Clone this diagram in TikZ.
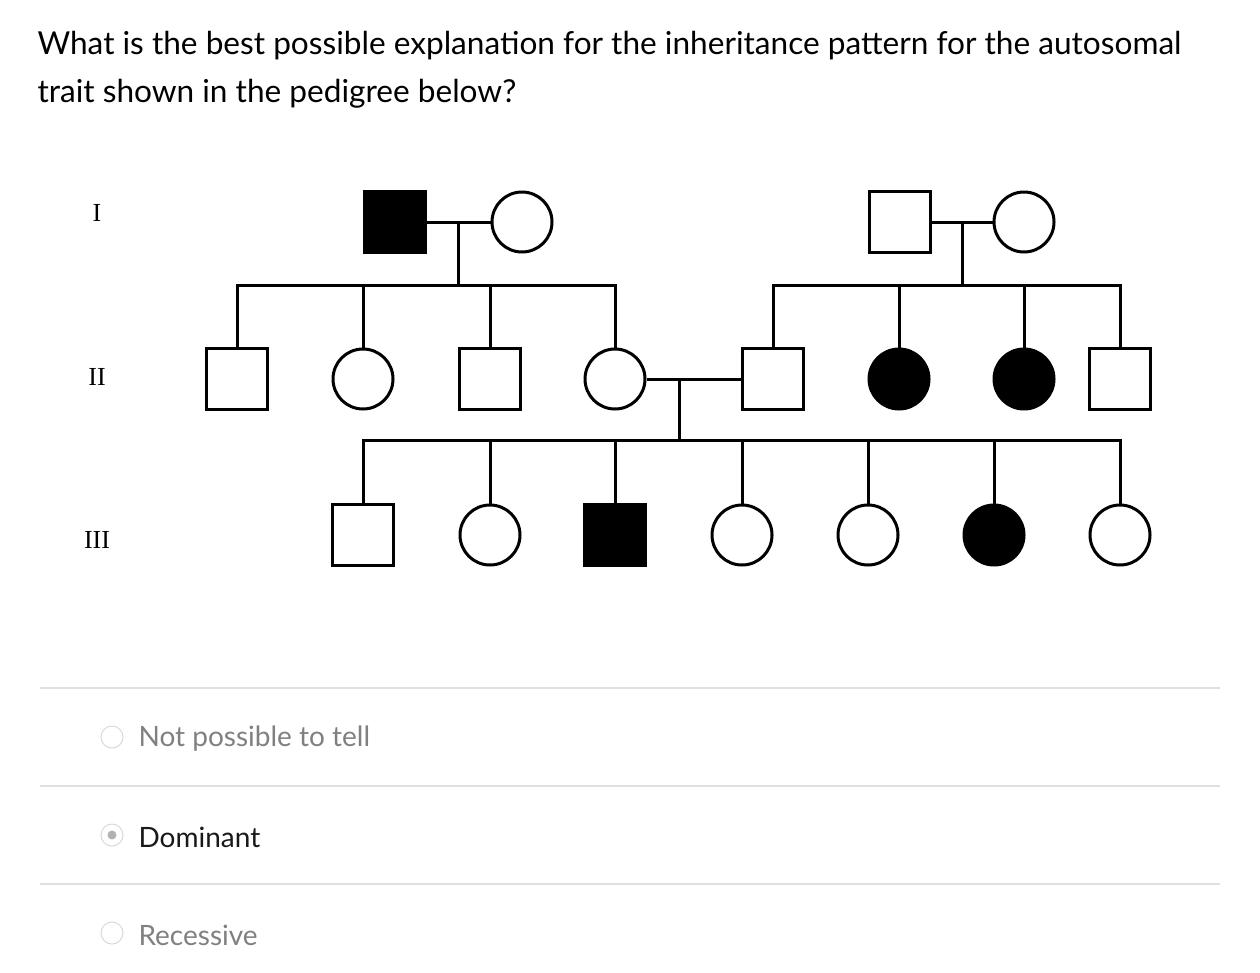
\documentclass[tikz,border=0pt]{standalone}
\usepackage{fontspec}
\setmainfont{Lato}
\newfontfamily\numfont{Liberation Serif}
\begin{document}
\begin{tikzpicture}[x=1pt,y=-1pt,
  sq/.style={draw,line width=3pt,minimum size=61pt,inner sep=0pt,rectangle},
  ci/.style={draw,line width=3pt,circle,minimum size=60pt,inner sep=0pt},
  af/.style={fill=black},
  ln/.style={line width=3pt},
  gen/.style={font=\numfont\fontsize{26}{30}\selectfont},
  sep/.style={draw=black!12,line width=1.5pt},
  radio/.style={draw=black!15,line width=1pt,circle,minimum size=22pt,inner sep=0pt},
  opt/.style={anchor=west,font=\fontsize{28}{32}\selectfont}]
\useasboundingbox (0,0) rectangle (1260,972);
\node[anchor=west,font=\fontsize{31.6}{48}\selectfont,align=left] (q) at (34,70) {What is the best possible explanation for the inheritance pattern for the autosomal\\trait shown in the pedigree below?};
\node[gen] (g1) at (97,213) {I};
\node[gen] (g2) at (97,377) {II};
\node[gen] (g3) at (97,540) {III};
% gen I
\node[sq,af] (a1) at (395,222) {};
\node[ci] (a2) at (522,222) {};
\node[sq] (b1) at (900,222) {};
\node[ci] (b2) at (1024,222) {};
\draw[ln] (a1) -- (a2); \draw[ln] (b1) -- (b2);
\coordinate (ma) at (458,222); \coordinate (mb) at (962,222);
\coordinate (sa) at (458,285); \coordinate (sb) at (962,285);
% gen II
\node[sq] (c1) at (237,379) {};
\node[ci] (c2) at (363,379) {};
\node[sq] (c3) at (490,379) {};
\node[ci] (c4) at (615,379) {};
\node[sq] (c5) at (773,379) {};
\node[ci,af] (c6) at (899,379) {};
\node[ci,af] (c7) at (1024,379) {};
\node[sq] (c8) at (1120,379) {};
\draw[ln] (ma) -- (sa); \draw[ln] (mb) -- (sb);
\draw[ln] (c1.north) -- (c1.north |- sa) -- (c4.north |- sa) -- (c4.north);
\draw[ln] (c2.north) -- (c2.north |- sa);
\draw[ln] (c3.north) -- (c3.north |- sa);
\draw[ln] (c5.north) -- (c5.north |- sb) -- (c8.north |- sb) -- (c8.north);
\draw[ln] (c6.north) -- (c6.north |- sb);
\draw[ln] (c7.north) -- (c7.north |- sb);
\draw[ln] (c4) -- (c5);
\coordinate (mc) at (679,379);
\coordinate (sc) at (679,440);
\draw[ln] (mc) -- (sc);
% gen III
\node[sq] (d1) at (363,535) {};
\node[ci] (d2) at (490,535) {};
\node[sq,af] (d3) at (615,535) {};
\node[ci] (d4) at (742,535) {};
\node[ci] (d5) at (868,535) {};
\node[ci,af] (d6) at (994,535) {};
\node[ci] (d7) at (1120,535) {};
\draw[ln] (d1.north) -- (d1.north |- sc) -- (d7.north |- sc) -- (d7.north);
\foreach \n in {d2,d3,d4,d5,d6} \draw[ln] (\n.north) -- (\n.north |- sc);
% options
\draw[sep] (40,688) -- (1220,688);
\draw[sep] (40,786) -- (1220,786);
\draw[sep] (40,884) -- (1220,884);
\node[radio] (r1) at (112,737) {};
\node[radio] (r2) at (112,835) {};
\fill[black!30] (r2) circle (4.5pt);
\node[radio] (r3) at (112,933) {};
\node[opt,text=black!50] (o1) at (135,739) {Not possible to tell};
\node[opt,text=black!90] (o2) at (135,837) {Dominant};
\node[opt,text=black!50] (o3) at (135,935) {Recessive};
\end{tikzpicture}
\end{document}
